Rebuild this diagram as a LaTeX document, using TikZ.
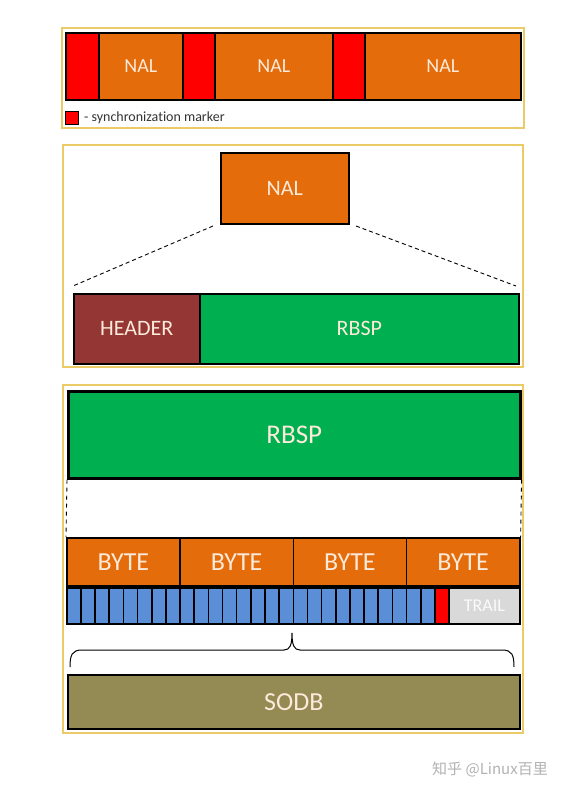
\documentclass[tikz,border=0pt]{standalone}
\usepackage{fontspec}
\setmainfont{Carlito}[Ligatures=NoCommon]
\newfontfamily\cjkfont{Noto Sans CJK SC}
\definecolor{nalorange}{HTML}{E46C0A}
\definecolor{syncred}{HTML}{FF0000}
\definecolor{rbspgreen}{HTML}{00B050}
\definecolor{headerred}{HTML}{943634}
\definecolor{bitblue}{HTML}{5A8ED6}
\definecolor{trailgray}{HTML}{D9D9D9}
\definecolor{sodbolive}{HTML}{948A54}
\definecolor{labelcream}{HTML}{FDEADA}
\definecolor{framegold}{HTML}{EACB68}
\tikzset{
  panel/.style={draw=framegold, line width=1.1pt},
  blk/.style={draw=black, line width=1.6pt, anchor=north west, inner sep=0pt, text=labelcream},
  bitbox/.style={draw=black, line width=1.6pt, anchor=north west, inner sep=0pt, fill=bitblue, minimum height=36pt, minimum width=14.156pt},
  dashline/.style={dashed, line width=0.9pt, dash pattern=on 4pt off 3pt},
}
\begin{document}
\begin{tikzpicture}[x=1pt,y=-1pt]
\fill[white] (0,0) rectangle (582,794);
\useasboundingbox (0,0) rectangle (582,794);
% panel frames
\draw[panel] (62,28) rectangle (524,128);
\draw[panel] (63,145) rectangle (523,367);
\draw[panel] (63,385) rectangle (523,733);
% ---- panel 1
\node[blk, fill=syncred, minimum width=33pt, minimum height=67pt] (s1) at (65,32) {};
\node[blk, fill=nalorange, minimum width=84pt, minimum height=67pt, font=\fontsize{20}{22}\selectfont] (n1) at (98,32) {NAL};
\node[blk, fill=syncred, minimum width=32pt, minimum height=67pt] (s2) at (182,32) {};
\node[blk, fill=nalorange, minimum width=118pt, minimum height=67pt, font=\fontsize{20}{22}\selectfont] (n2) at (214,32) {NAL};
\node[blk, fill=syncred, minimum width=32pt, minimum height=67pt] (s3) at (332,32) {};
\node[blk, fill=nalorange, minimum width=156pt, minimum height=67pt, font=\fontsize{20}{22}\selectfont] (n3) at (364,32) {NAL};
\node[draw=black, line width=1pt, fill=syncred, anchor=north west, minimum width=13pt, minimum height=13pt, inner sep=0pt] (leg) at (65,111) {};
\node[anchor=west, inner sep=0pt, text=black!80, font=\fontsize{14}{15}\selectfont] (legtxt) at (84,118) {- synchronization marker};
% ---- panel 2
\node[blk, fill=nalorange, minimum width=128pt, minimum height=71pt, font=\fontsize{22}{24}\selectfont] (nal) at (220,152) {NAL};
\node[blk, fill=headerred, minimum width=126pt, minimum height=70pt, font=\fontsize{22}{24}\selectfont] (hdr) at (73,293) {HEADER};
\node[blk, fill=rbspgreen, minimum width=319pt, minimum height=70pt, font=\fontsize{22}{24}\selectfont] (rbsp) at (199,293) {RBSP};
\coordinate (dl1) at (213,226);
\coordinate (dl2) at (73,286);
\coordinate (dr1) at (356,226);
\coordinate (dr2) at (516,286);
\draw[dashline] (dl1) -- (dl2);
\draw[dashline] (dr1) -- (dr2);
% ---- panel 3
\node[blk, line width=2.6pt, fill=rbspgreen, minimum width=452pt, minimum height=87pt, font=\fontsize{27}{29}\selectfont] (rbspb) at (67,390) {RBSP};
\node[blk, fill=nalorange, minimum width=113.25pt, minimum height=48pt, font=\fontsize{26}{28}\selectfont] (b1) at (66,537) {BYTE};
\node[blk, fill=nalorange, minimum width=113.25pt, minimum height=48pt, font=\fontsize{26}{28}\selectfont] (b2) at (179.25,537) {BYTE};
\node[blk, fill=nalorange, minimum width=113.25pt, minimum height=48pt, font=\fontsize{26}{28}\selectfont] (b3) at (292.5,537) {BYTE};
\node[blk, fill=nalorange, minimum width=113.25pt, minimum height=48pt, font=\fontsize{26}{28}\selectfont] (b4) at (405.75,537) {BYTE};
\foreach \i in {0,...,25} {
  \node[bitbox] (bit\i) at ({66+\i*14.156},587) {};
}
\node[bitbox, fill=syncred] (stopbit) at ({66+26*14.156},587) {};
\node[draw=black, line width=1.6pt, anchor=north west, inner sep=0pt, fill=trailgray, minimum height=36pt, minimum width={5*14.156pt}, text=white!96!gray, font=\fontsize{18}{20}\selectfont] (trail) at ({66+27*14.156},587) {TRAIL};
\draw[dashline, dash pattern=on 4pt off 4pt] (rbspb.south west) -- (b1.north west);
\draw[dashline, dash pattern=on 4pt off 4pt] (rbspb.south east) -- (b4.north east);
% brace
\coordinate (brl) at (70,667);
\coordinate (brr) at (514,667);
\coordinate (brtip) at (292,633);
\draw[line width=1pt] (brl) .. controls (70,655) and (72,650) .. (82,650) -- (284,650)
  .. controls (290,650) and (292,645) .. (brtip)
  .. controls (292,645) and (294,650) .. (300,650) -- (502,650)
  .. controls (512,650) and (514,655) .. (brr);
\node[blk, fill=sodbolive, minimum width=452pt, minimum height=54pt, font=\fontsize{26}{28}\selectfont] (sodb) at (67,674) {SODB};
% watermark
\node[anchor=west, inner sep=0pt, text=black!30, font=\fontsize{15}{17}\selectfont] (wm) at (432,769) {\cjkfont 知乎 @Linux百里};
\end{tikzpicture}
\end{document}
